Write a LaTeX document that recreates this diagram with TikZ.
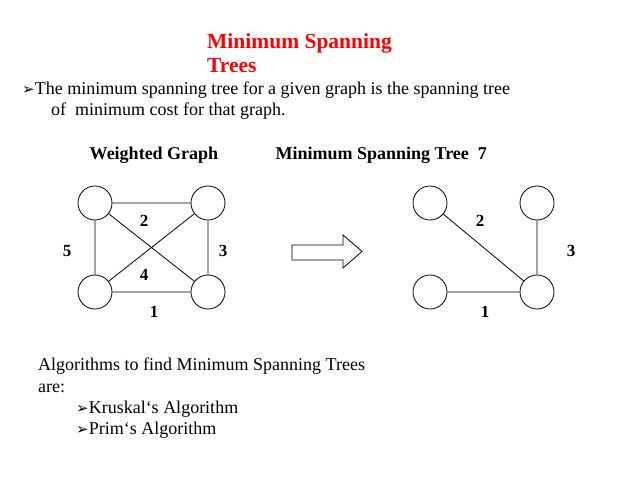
\documentclass[tikz,border=0pt]{standalone}
\usepackage{fontspec}
\setmainfont{Liberation Serif}
\newfontfamily\symfont{DejaVu Sans}
\newcommand{\barrow}{{\symfont\fontsize{15}{17}\selectfont ➢}}
\begin{document}
\begin{tikzpicture}[x=1pt,y=-1pt,
  vtx/.style={draw,circle,minimum size=34pt,inner sep=0pt,line width=0.8pt},
  edge/.style={line width=0.8pt},
  wlab/.style={font=\fontsize{17}{19}\selectfont\bfseries},
  hlab/.style={font=\fontsize{18}{21}\selectfont\bfseries},
  body/.style={font=\fontsize{18}{21}\selectfont,anchor=west,inner sep=0pt}]
\useasboundingbox (0,0) rectangle (638,478);
\node[anchor=north west,align=left,text=red,font=\fontsize{21.5}{24}\selectfont\bfseries,inner sep=0pt] (title) at (207,33) {Minimum Spanning\\Trees};
\node[body] (b1) at (22,90) {\barrow The minimum spanning tree for a given graph is the spanning tree};
\node[body] (b2) at (51,111) {of \ minimum cost for that graph.};
\node[hlab] (wg) at (154,155) {Weighted Graph};
\node[hlab,anchor=west] (mst) at (272,155) {Minimum Spanning Tree \ 7};
% left graph
\node[vtx] (a) at (95,203) {};
\node[vtx] (b) at (208,203) {};
\node[vtx] (c) at (95,292) {};
\node[vtx] (d) at (208,292) {};
\draw[edge] (a)--(b) (a)--(c) (b)--(d) (c)--(d) (a)--(d) (b)--(c);
\node[wlab] (l2) at (144,221) {2};
\node[wlab] (l5) at (67,251) {5};
\node[wlab] (l3) at (223,251) {3};
\node[wlab] (l4) at (144,275) {4};
\node[wlab] (l1) at (154,312) {1};
% arrow
\draw[edge] (292,245)--(343,245)--(343,235)--(362,251.5)--(343,268)--(343,260)--(292,260)--cycle;
% right graph
\node[vtx] (e) at (430,203) {};
\node[vtx] (f) at (537,203) {};
\node[vtx] (g) at (430,292) {};
\node[vtx] (h) at (537,292) {};
\draw[edge] (e)--(h) (f)--(h) (g)--(h);
\node[wlab] (r2) at (480,221) {2};
\node[wlab] (r3) at (571,251) {3};
\node[wlab] (r1) at (485,312) {1};
% bottom text
\node[body] (t1) at (38,366) {Algorithms to find Minimum Spanning Trees};
\node[body] (t2) at (38,388) {are:};
\node[body] (t3) at (76,409) {\barrow Kruskal‘s Algorithm};
\node[body] (t4) at (76,430) {\barrow Prim‘s Algorithm};
\end{tikzpicture}
\end{document}
